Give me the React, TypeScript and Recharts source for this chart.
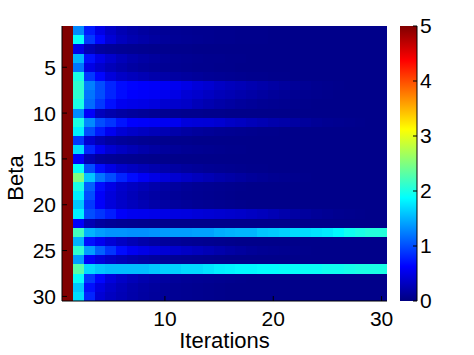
import React from 'react';
import { BarChart, Bar, Cell, XAxis, YAxis, Label } from 'recharts';

// iterations (columns) and beta (rows)
const iterations = [1, 2, 3, 4, 5, 6, 7, 8, 9, 10, 11, 12, 13, 14, 15, 16, 17, 18, 19, 20, 21, 22, 23, 24, 25, 26, 27, 28, 29, 30];
const betas = [1, 2, 3, 4, 5, 6, 7, 8, 9, 10, 11, 12, 13, 14, 15, 16, 17, 18, 19, 20, 21, 22, 23, 24, 25, 26, 27, 28, 29, 30];
const betaTicks = [5, 10, 15, 20, 25, 30];
const iterTicks = [10, 20, 30];
const barTicks = [0, 1, 2, 3, 4, 5];

// one row of values per beta, read across the iterations
const beta01 = [5, 1.3, 0.75, 0.5, 0.35, 0.25, 0.2, 0.16, 0.13, 0.11, 0.1, 0.09, 0.08, 0.08, 0.07, 0.07, 0.06, 0.06, 0.06, 0.05, 0.05, 0.05, 0.05, 0.05, 0.05, 0.05, 0.05, 0.05, 0.05, 0.05];
const beta02 = [5, 1.9, 0.9, 0.65, 0.42, 0.3, 0.24, 0.2, 0.16, 0.13, 0.11, 0.1, 0.09, 0.08, 0.07, 0.07, 0.06, 0.06, 0.06, 0.05, 0.05, 0.05, 0.05, 0.05, 0.05, 0.05, 0.05, 0.05, 0.05, 0.05];
const beta03 = [5, 0.5, 0.25, 0.15, 0.12, 0.1, 0.09, 0.08, 0.07, 0.07, 0.06, 0.06, 0.05, 0.05, 0.05, 0.05, 0.05, 0.05, 0.05, 0.05, 0.05, 0.05, 0.05, 0.05, 0.05, 0.05, 0.05, 0.05, 0.05, 0.05];
const beta04 = [5, 1.5, 0.7, 0.5, 0.38, 0.28, 0.22, 0.18, 0.15, 0.12, 0.1, 0.09, 0.08, 0.07, 0.07, 0.06, 0.06, 0.05, 0.05, 0.05, 0.05, 0.05, 0.05, 0.05, 0.05, 0.05, 0.05, 0.05, 0.05, 0.05];
const beta05 = [5, 1.2, 0.5, 0.38, 0.28, 0.22, 0.17, 0.14, 0.12, 0.1, 0.09, 0.08, 0.07, 0.07, 0.06, 0.06, 0.05, 0.05, 0.05, 0.05, 0.05, 0.05, 0.05, 0.05, 0.05, 0.05, 0.05, 0.05, 0.05, 0.05];
const beta06 = [5, 2.0, 0.9, 0.65, 0.45, 0.35, 0.3, 0.26, 0.22, 0.2, 0.17, 0.15, 0.13, 0.11, 0.1, 0.09, 0.08, 0.07, 0.07, 0.06, 0.06, 0.05, 0.05, 0.05, 0.05, 0.05, 0.05, 0.05, 0.05, 0.05];
const beta07 = [5, 2.1, 1.25, 1.0, 0.8, 0.68, 0.64, 0.62, 0.6, 0.58, 0.55, 0.5, 0.44, 0.4, 0.34, 0.3, 0.27, 0.24, 0.21, 0.18, 0.15, 0.12, 0.1, 0.08, 0.07, 0.06, 0.05, 0.05, 0.05, 0.05];
const beta08 = [5, 2.1, 1.2, 1.0, 0.8, 0.68, 0.62, 0.6, 0.58, 0.55, 0.5, 0.42, 0.38, 0.33, 0.28, 0.25, 0.22, 0.19, 0.16, 0.13, 0.11, 0.09, 0.08, 0.07, 0.06, 0.05, 0.05, 0.05, 0.05, 0.05];
const beta09 = [5, 2.0, 1.15, 0.9, 0.7, 0.55, 0.52, 0.5, 0.47, 0.4, 0.38, 0.35, 0.28, 0.24, 0.2, 0.17, 0.14, 0.12, 0.1, 0.09, 0.08, 0.07, 0.06, 0.05, 0.05, 0.05, 0.05, 0.05, 0.05, 0.05];
const beta10 = [5, 1.3, 0.6, 0.3, 0.22, 0.17, 0.14, 0.12, 0.1, 0.09, 0.08, 0.07, 0.07, 0.06, 0.06, 0.05, 0.05, 0.05, 0.05, 0.05, 0.05, 0.05, 0.05, 0.05, 0.05, 0.05, 0.05, 0.05, 0.05, 0.05];
const beta11 = [5, 2.0, 1.3, 1.0, 0.88, 0.72, 0.62, 0.6, 0.58, 0.56, 0.55, 0.46, 0.44, 0.43, 0.4, 0.35, 0.32, 0.28, 0.25, 0.22, 0.2, 0.17, 0.14, 0.11, 0.09, 0.08, 0.07, 0.06, 0.05, 0.05];
const beta12 = [5, 1.8, 1.0, 0.75, 0.55, 0.42, 0.36, 0.32, 0.28, 0.25, 0.21, 0.17, 0.14, 0.12, 0.1, 0.09, 0.08, 0.07, 0.06, 0.06, 0.05, 0.05, 0.05, 0.05, 0.05, 0.05, 0.05, 0.05, 0.05, 0.05];
const beta13 = [5, 0.9, 0.4, 0.25, 0.17, 0.13, 0.11, 0.09, 0.08, 0.07, 0.06, 0.06, 0.05, 0.05, 0.05, 0.05, 0.05, 0.05, 0.05, 0.05, 0.05, 0.05, 0.05, 0.05, 0.05, 0.05, 0.05, 0.05, 0.05, 0.05];
const beta14 = [5, 1.7, 0.8, 0.55, 0.4, 0.32, 0.26, 0.21, 0.17, 0.14, 0.12, 0.1, 0.09, 0.08, 0.07, 0.06, 0.06, 0.05, 0.05, 0.05, 0.05, 0.05, 0.05, 0.05, 0.05, 0.05, 0.05, 0.05, 0.05, 0.05];
const beta15 = [5, 0.6, 0.25, 0.14, 0.11, 0.09, 0.08, 0.07, 0.06, 0.06, 0.05, 0.05, 0.05, 0.05, 0.05, 0.05, 0.05, 0.05, 0.05, 0.05, 0.05, 0.05, 0.05, 0.05, 0.05, 0.05, 0.05, 0.05, 0.05, 0.05];
const beta16 = [5, 1.9, 1.0, 0.68, 0.5, 0.38, 0.32, 0.27, 0.23, 0.2, 0.17, 0.14, 0.12, 0.1, 0.09, 0.08, 0.07, 0.06, 0.06, 0.05, 0.05, 0.05, 0.05, 0.05, 0.05, 0.05, 0.05, 0.05, 0.05, 0.05];
const beta17 = [5, 2.5, 1.6, 1.2, 1.0, 0.8, 0.68, 0.58, 0.5, 0.45, 0.4, 0.35, 0.3, 0.26, 0.22, 0.19, 0.16, 0.13, 0.11, 0.09, 0.08, 0.07, 0.06, 0.05, 0.05, 0.05, 0.05, 0.05, 0.05, 0.05];
const beta18 = [5, 2.0, 1.1, 0.68, 0.5, 0.38, 0.32, 0.27, 0.22, 0.18, 0.15, 0.12, 0.1, 0.09, 0.08, 0.07, 0.06, 0.05, 0.05, 0.05, 0.05, 0.05, 0.05, 0.05, 0.05, 0.05, 0.05, 0.05, 0.05, 0.05];
const beta19 = [5, 1.8, 1.0, 0.6, 0.45, 0.35, 0.28, 0.22, 0.18, 0.15, 0.12, 0.1, 0.09, 0.08, 0.07, 0.06, 0.05, 0.05, 0.05, 0.05, 0.05, 0.05, 0.05, 0.05, 0.05, 0.05, 0.05, 0.05, 0.05, 0.05];
const beta20 = [5, 1.6, 0.9, 0.6, 0.45, 0.36, 0.3, 0.25, 0.2, 0.17, 0.14, 0.12, 0.1, 0.09, 0.08, 0.07, 0.06, 0.05, 0.05, 0.05, 0.05, 0.05, 0.05, 0.05, 0.05, 0.05, 0.05, 0.05, 0.05, 0.05];
const beta21 = [5, 1.8, 1.0, 0.88, 0.76, 0.6, 0.55, 0.54, 0.52, 0.5, 0.48, 0.47, 0.44, 0.42, 0.4, 0.38, 0.36, 0.33, 0.3, 0.26, 0.22, 0.18, 0.15, 0.12, 0.1, 0.08, 0.07, 0.06, 0.05, 0.05];
const beta22 = [5, 0.6, 0.25, 0.15, 0.11, 0.09, 0.08, 0.07, 0.06, 0.06, 0.05, 0.05, 0.05, 0.05, 0.05, 0.05, 0.05, 0.05, 0.05, 0.05, 0.05, 0.05, 0.05, 0.05, 0.05, 0.05, 0.05, 0.05, 0.05, 0.05];
const beta23 = [5, 2.2, 1.5, 1.4, 1.35, 1.35, 1.33, 1.33, 1.35, 1.38, 1.4, 1.4, 1.42, 1.42, 1.48, 1.5, 1.52, 1.52, 1.6, 1.62, 1.65, 1.7, 1.72, 1.75, 1.78, 1.85, 1.95, 2.0, 2.05, 2.05];
const beta24 = [5, 1.5, 0.7, 0.55, 0.42, 0.33, 0.26, 0.21, 0.17, 0.14, 0.12, 0.1, 0.09, 0.08, 0.07, 0.06, 0.05, 0.05, 0.05, 0.05, 0.05, 0.05, 0.05, 0.05, 0.05, 0.05, 0.05, 0.05, 0.05, 0.05];
const beta25 = [5, 2.1, 1.4, 1.1, 0.88, 0.68, 0.56, 0.5, 0.45, 0.42, 0.38, 0.34, 0.3, 0.26, 0.22, 0.18, 0.15, 0.12, 0.1, 0.09, 0.08, 0.07, 0.06, 0.05, 0.05, 0.05, 0.05, 0.05, 0.05, 0.05];
const beta26 = [5, 1.4, 0.6, 0.45, 0.34, 0.27, 0.22, 0.18, 0.15, 0.12, 0.1, 0.09, 0.08, 0.07, 0.06, 0.05, 0.05, 0.05, 0.05, 0.05, 0.05, 0.05, 0.05, 0.05, 0.05, 0.05, 0.05, 0.05, 0.05, 0.05];
const beta27 = [5, 2.3, 1.7, 1.6, 1.55, 1.55, 1.55, 1.55, 1.6, 1.65, 1.65, 1.7, 1.7, 1.75, 1.8, 1.82, 1.85, 1.85, 1.88, 1.88, 1.9, 1.9, 1.92, 1.92, 1.95, 1.95, 1.98, 2.0, 2.0, 2.0];
const beta28 = [5, 1.9, 0.9, 0.65, 0.45, 0.35, 0.28, 0.23, 0.19, 0.16, 0.13, 0.11, 0.1, 0.09, 0.08, 0.07, 0.06, 0.05, 0.05, 0.05, 0.05, 0.05, 0.05, 0.05, 0.05, 0.05, 0.05, 0.05, 0.05, 0.05];
const beta29 = [5, 1.6, 0.7, 0.48, 0.36, 0.28, 0.22, 0.18, 0.15, 0.12, 0.1, 0.09, 0.08, 0.07, 0.06, 0.05, 0.05, 0.05, 0.05, 0.05, 0.05, 0.05, 0.05, 0.05, 0.05, 0.05, 0.05, 0.05, 0.05, 0.05];
const beta30 = [5, 1.7, 0.8, 0.42, 0.32, 0.26, 0.21, 0.17, 0.14, 0.12, 0.1, 0.09, 0.08, 0.07, 0.06, 0.05, 0.05, 0.05, 0.05, 0.05, 0.05, 0.05, 0.05, 0.05, 0.05, 0.05, 0.05, 0.05, 0.05, 0.05];

const rows = [
  beta01, beta02, beta03, beta04, beta05, beta06, beta07, beta08, beta09, beta10,
  beta11, beta12, beta13, beta14, beta15, beta16, beta17, beta18, beta19, beta20,
  beta21, beta22, beta23, beta24, beta25, beta26, beta27, beta28, beta29, beta30,
];

const CMAX = 5;

// matlab jet colormap
const jet = (v: number) => {
  const t = Math.max(0, Math.min(1, v / CMAX));
  const c = (x: number) => Math.round(255 * Math.max(0, Math.min(1, x)));
  const r = c(1.5 - Math.abs(4 * t - 3));
  const g = c(1.5 - Math.abs(4 * t - 2));
  const b = c(1.5 - Math.abs(4 * t - 1));
  return `rgb(${r},${g},${b})`;
};

// each cell is a stacked segment of height 1
const cellData = iterations.map((it) => {
  const d: Record<string, number> = { it };
  betas.forEach((b) => { d['b' + b] = 1; });
  return d;
});

const font = '"Liberation Sans", Arial, Helvetica, sans-serif';

const BottomTick = (props: any) => {
  const { x, y, payload } = props;
  if (!iterTicks.includes(payload.value)) return null;
  return (
    <g>
      <line x1={x} x2={x} y1={y} y2={y - 5} stroke="#000" />
      <text x={x} y={y + 25} textAnchor="middle" fontSize={21} fill="#000">{payload.value}</text>
    </g>
  );
};

const TopTick = (props: any) => {
  const { x, y, payload } = props;
  if (!iterTicks.includes(payload.value)) return null;
  return <line x1={x} x2={x} y1={y} y2={y + 5} stroke="#000" />;
};

const barStops = [0, 0.125, 0.375, 0.625, 0.875, 1];

export default function App() {
  return (
    <div style={{ position: 'absolute', left: 0, top: 0, width: 474, height: 355, background: '#fff', fontFamily: font }}>
      <BarChart
        width={474}
        height={355}
        data={cellData}
        margin={{ top: 26, right: 87, bottom: 0, left: 0 }}
        barCategoryGap={0}
        barGap={0}
        style={{ position: 'absolute', left: 0, top: 0 }}
      >
        <XAxis
          dataKey="it"
          height={54}
          interval={0}
          tickSize={0}
          tickMargin={0}
          tickLine={false}
          axisLine={{ stroke: '#000' }}
          tick={<BottomTick />}
        >
          <Label
            content={(p: any) => {
              const vb = p.viewBox;
              return (
                <text x={vb.x + vb.width / 2} y={348} textAnchor="middle" fontSize={22} fill="#000">Iterations</text>
              );
            }}
          />
        </XAxis>
        <XAxis
          xAxisId="top"
          orientation="top"
          dataKey="it"
          height={0}
          interval={0}
          tickSize={0}
          tickMargin={0}
          tickLine={false}
          axisLine={{ stroke: '#000' }}
          tick={<TopTick />}
        />
        <YAxis
          type="number"
          domain={[0, betas.length]}
          reversed
          width={62}
          ticks={betaTicks.map((t) => t - 0.5)}
          tickFormatter={(v: number) => String(v + 0.5)}
          tickSize={-5}
          tickMargin={11}
          axisLine={{ stroke: '#000' }}
          tickLine={{ stroke: '#000' }}
          tick={{ fill: '#000', fontSize: 21 }}
        >
          <Label
            content={() => {
              const cx = 15;
              const cy = 178;
              return (
                <text x={cx} y={cy} transform={`rotate(-90, ${cx}, ${cy})`} textAnchor="middle" dominantBaseline="central" fontSize={22} fill="#000">Beta</text>
              );
            }}
          />
        </YAxis>
        <YAxis
          yAxisId="right"
          orientation="right"
          type="number"
          domain={[0, betas.length]}
          reversed
          width={0}
          ticks={betaTicks.map((t) => t - 0.5)}
          tickSize={-5}
          tick={false}
          axisLine={{ stroke: '#000' }}
          tickLine={{ stroke: '#000' }}
        />
        {betas.map((b, i) => (
          <Bar key={b} dataKey={'b' + b} stackId="cells" isAnimationActive={false}>
            {iterations.map((it, j) => (
              <Cell key={it} fill={jet(rows[i][j])} shapeRendering="crispEdges" />
            ))}
          </Bar>
        ))}
      </BarChart>

      {/* colour bar */}
      <BarChart
        width={74}
        height={355}
        data={[{ k: 'c', v: CMAX }]}
        margin={{ top: 26, right: 0, bottom: 54, left: 0 }}
        barCategoryGap={0}
        style={{ position: 'absolute', left: 400, top: 0 }}
      >
        <defs>
          <linearGradient id="jetbar" x1="0" y1="1" x2="0" y2="0">
            {barStops.map((s) => (
              <stop key={s} offset={s} stopColor={jet(s * CMAX)} />
            ))}
          </linearGradient>
        </defs>
        <XAxis dataKey="k" height={0} tick={false} tickLine={false} axisLine={{ stroke: '#000' }} />
        <XAxis xAxisId="t" orientation="top" dataKey="k" height={0} tick={false} tickLine={false} axisLine={{ stroke: '#000' }} />
        <YAxis
          orientation="right"
          type="number"
          domain={[0, CMAX]}
          ticks={barTicks}
          width={57}
          tickSize={-4}
          tickMargin={7}
          axisLine={{ stroke: '#000' }}
          tickLine={{ stroke: '#000' }}
          tick={{ fill: '#000', fontSize: 21, textAnchor: 'start' }}
        />
        <YAxis
          yAxisId="l"
          orientation="left"
          type="number"
          domain={[0, CMAX]}
          ticks={barTicks}
          width={0}
          tickSize={-4}
          tick={false}
          axisLine={{ stroke: '#000' }}
          tickLine={{ stroke: '#000' }}
        />
        <Bar dataKey="v" fill="url(#jetbar)" isAnimationActive={false} />
      </BarChart>
    </div>
  );
}
